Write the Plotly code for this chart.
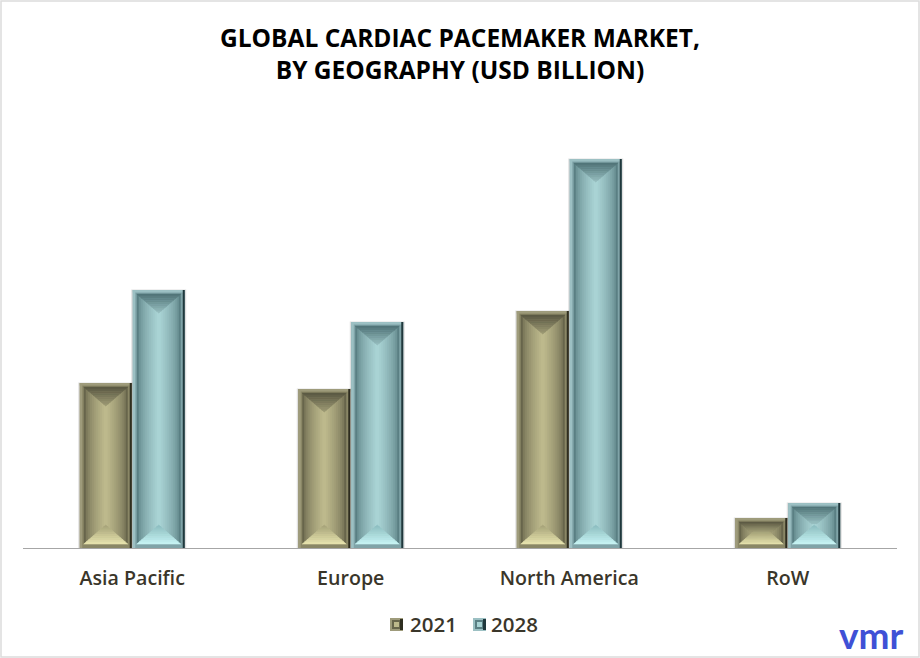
import plotly.graph_objects as go

regions = ["Asia Pacific", "Europe", "North America", "RoW"]
years = ["2021", "2028"]
values_2021 = [3.30, 3.18, 4.74, 0.60]
values_2028 = [5.16, 4.52, 7.78, 0.90]

# size of one pixel in axis units
PX_X = 1 / 218.5
PX_Y = 1 / 50
BAR_W = 52 * PX_X

palette = {
    "2021": dict(frame="#8a8766", light="#9e9b7b", dark="#2f2e20", edge="#67654b", centre="#bdb98c",
                 top=("#5c5a44", "#9a9772"), bottom=("#a9a67c", "#e6e2ad")),
    "2028": dict(frame="#80a4a8", light="#9cc0c3", dark="#20383c", edge="#5a7f83", centre="#a9d3d4",
                 top=("#527579", "#93babc"), bottom=("#8fc0c2", "#c6f3f3")),
}


def lerp(c1, c2, t):
    a = [int(c1[i:i + 2], 16) for i in (1, 3, 5)]
    b = [int(c2[i:i + 2], 16) for i in (1, 3, 5)]
    return "rgb(%d,%d,%d)" % tuple(round(p + (q - p) * t) for p, q in zip(a, b))


fig = go.Figure()


def strip(xs, width, bases, heights, color):
    fig.add_trace(go.Bar(x=xs, y=heights, base=bases, width=width, showlegend=False,
                         marker=dict(color=color, line=dict(width=0)), hoverinfo="skip"))


def bevel(centres, vals, pal, top):
    # sloped panels at the top and bottom of each bar, cut in bands for the shading
    bands = 9
    hw = 22 * PX_X
    full = 19
    for b in range(bands):
        xs, ys = [], []
        for cx, v in zip(centres, vals):
            inner = v / PX_Y - 8
            depth = min(full, inner * 0.45) if top else min(full, inner * 0.55)
            d0, d1 = depth * b / bands, depth * (b + 1) / bands
            w0, w1 = hw * (1 - d0 / full), hw * (1 - d1 / full)
            if top:
                y0, y1 = v - (4 + d0) * PX_Y, v - (4 + d1) * PX_Y
            else:
                y0, y1 = (4 + d0) * PX_Y, (4 + d1) * PX_Y
            xs += [cx - w0, cx + w0, cx + w1, cx - w1, cx - w0, None]
            ys += [y0, y0, y1, y1, y0, None]
        if top:
            color = lerp(pal["top"][0], pal["top"][1], b / (bands - 1))
        else:
            color = lerp(pal["bottom"][1], pal["bottom"][0], b / (bands - 1))
        fig.add_trace(go.Scatter(x=xs, y=ys, mode="lines", fill="toself", fillcolor=color,
                                 line=dict(width=0.6, color=color), showlegend=False, hoverinfo="skip"))


for year, vals, side in [("2021", values_2021, -1), ("2028", values_2028, 1)]:
    pal = palette[year]
    centres = [i + side * (BAR_W / 2 + 0.5 * PX_X) for i in range(len(regions))]
    zeros = [0] * len(vals)

    # soft shadow
    strip(centres, BAR_W + 3 * PX_X, zeros, [v + 0.5 * PX_Y for v in vals], "rgba(0,0,0,0.12)")
    # frame
    strip(centres, BAR_W, zeros, vals, pal["frame"])
    strip(centres, BAR_W, [v - 2.5 * PX_Y for v in vals], [2.5 * PX_Y] * 4, pal["light"])
    strip([c - (BAR_W / 2 - 1.25 * PX_X) for c in centres], 2.5 * PX_X, zeros, vals, pal["light"])
    strip([c + (BAR_W / 2 - 1 * PX_X) for c in centres], 2 * PX_X, zeros, vals, pal["dark"])
    # inner panel, narrower bars on top of each other give the side shading
    steps = 11
    for k in range(steps):
        t = (k / (steps - 1)) ** 0.6
        strip(centres, (44 - 4 * k) * PX_X, [4 * PX_Y] * 4, [v - 8 * PX_Y for v in vals],
              lerp(pal["edge"], pal["centre"], t))
    bevel(centres, vals, pal, True)
    bevel(centres, vals, pal, False)


# hand made legend, the built-in one keeps too wide a gap after the icon
def px(x):
    return (x - 23) / 874


def py(y):
    return (548 - y) / 420


shapes = [dict(type="rect", xref="paper", yref="paper", x0=px(1), x1=px(919), y0=py(657), y1=py(1),
               line=dict(color="#dcdcdc", width=1.5), fillcolor="rgba(0,0,0,0)", layer="below")]


def box(x0, y0, x1, y1, color):
    shapes.append(dict(type="rect", xref="paper", yref="paper", x0=px(x0), x1=px(x1), y0=py(y1), y1=py(y0),
                       fillcolor=color, line=dict(width=0), layer="above"))


for year, left, text_x in zip(years, [390, 473], [410, 491]):
    pal = palette[year]
    box(left, 618, left + 13, 631, pal["light"])
    box(left + 2, 620, left + 11, 629, pal["edge"])
    box(left + 10, 619, left + 13, 630, pal["dark"])
    box(left + 4, 622, left + 9, 627, pal["centre"])
    fig.add_annotation(text=year, xref="paper", yref="paper", x=px(text_x), y=py(624), showarrow=False,
                       xanchor="left", yanchor="middle", xshift=-2,
                       font=dict(family="Open Sans", size=20.5, color="#3a362a", weight=600))

fig.add_annotation(text="vmr", xref="paper", yref="paper", x=px(871), y=py(634),
                   showarrow=False, xanchor="center", yanchor="middle",
                   font=dict(family="Lato", size=37, color="#3f51d6", weight=700))

fig.update_layout(
    width=920, height=658,
    margin=dict(l=23, r=23, t=128, b=110),
    paper_bgcolor="white", plot_bgcolor="white",
    barmode="overlay", showlegend=False, shapes=shapes,
    font=dict(family="Open Sans", color="#3a362a"),
    title=dict(text="GLOBAL CARDIAC PACEMAKER MARKET,<br>BY GEOGRAPHY (USD BILLION)",
               x=0.5, xanchor="center", xref="container", y=1 - 47 / 658, yanchor="middle", yref="container",
               font=dict(family="Open Sans", size=24.5, color="#000000", weight=700)),
    xaxis=dict(range=[-0.5, 3.5], tickmode="array", tickvals=list(range(len(regions))), ticktext=regions,
               showgrid=False, zeroline=False, showline=True, linecolor="#a6a6a6", linewidth=1,
               ticks="outside", ticklen=12, tickcolor="rgba(0,0,0,0)",
               tickfont=dict(family="Open Sans", size=19.6, color="#3a362a", weight=600)),
    yaxis=dict(range=[0, 8.4], visible=False),
)

fig.write_html("out.html", config=dict(displayModeBar=False),
               post_script="document.body.style.margin='0'")
